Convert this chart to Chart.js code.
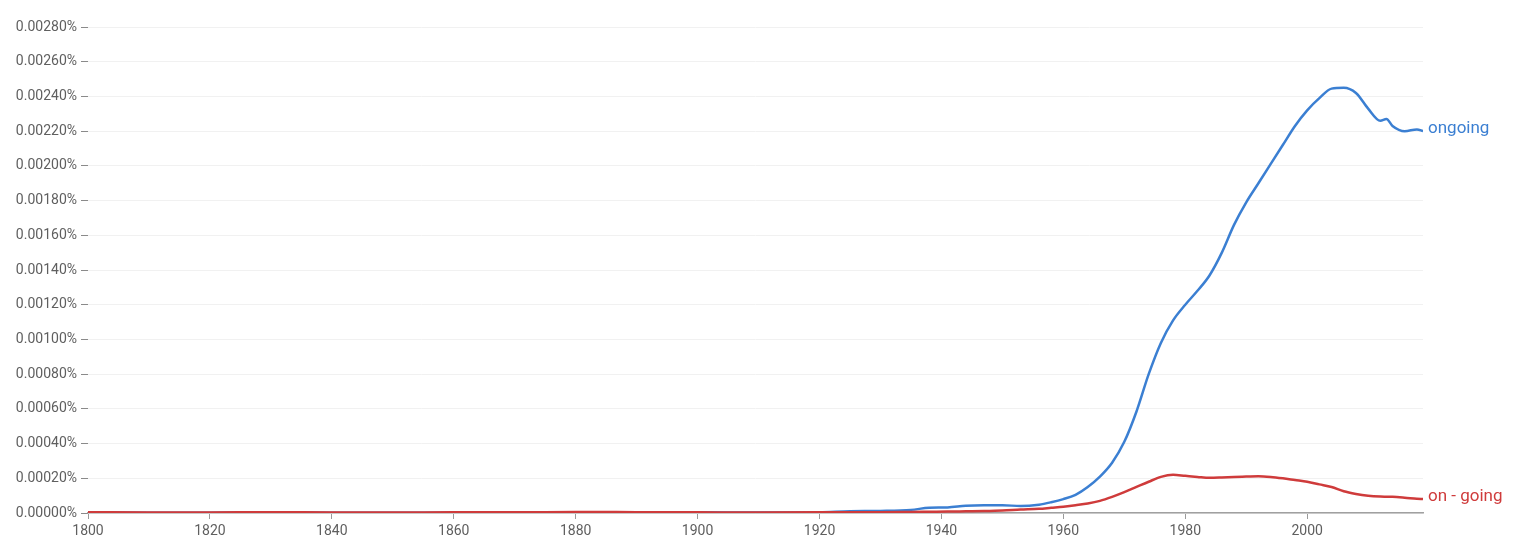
<!DOCTYPE html>
<html>
<head>
<meta charset="utf-8">
<script src="https://cdn.jsdelivr.net/npm/chart.js@4"></script>
<style>
  html, body { margin: 0; padding: 0; background: #fff; }
  #wrap { width: 1536px; height: 552px; }
</style>
</head>
<body>
<div id="wrap"><canvas id="ngram"></canvas></div>
<script>
const years = [1800, 1810, 1820, 1830, 1840, 1850, 1860, 1870, 1880, 1890, 1900, 1910,
  1920, 1925, 1930, 1935, 1938, 1941, 1944, 1947, 1950, 1953, 1956, 1958, 1960, 1962,
  1964, 1966, 1968, 1970, 1972, 1974, 1976, 1978, 1980, 1982, 1984, 1986, 1988, 1990,
  1992, 1994, 1996, 1998, 2000, 2002, 2004, 2006, 2008, 2010, 2012, 2013, 2014, 2016,
  2018, 2019];

const ongoing = [0.000003, 0.000002, 0.000002, 0.000004, 0.000002, 0.000002, 0.000002,
  0.000003, 0.000004, 0.000004, 0.000004, 0.000003, 0.000005, 0.00001, 0.000012, 0.000018,
  0.00003, 0.000032, 0.000042, 0.000045, 0.000045, 0.00004, 0.000048, 0.000062, 0.00008,
  0.000105, 0.00015, 0.00021, 0.00029, 0.00041, 0.000585, 0.0008, 0.00098, 0.00111, 0.0012,
  0.00128, 0.00137, 0.0015, 0.00166, 0.00179, 0.0019, 0.00201, 0.00212, 0.00223, 0.00232,
  0.00239, 0.002445, 0.00245, 0.00242, 0.00233, 0.00226, 0.00227, 0.00223, 0.0022, 0.00221,
  0.0022];

const onGoing = [0.000005, 0.000003, 0.000003, 0.000005, 0.000003, 0.000003, 0.000004,
  0.000004, 0.000006, 0.000005, 0.000004, 0.000003, 0.000004, 0.000005, 0.000005, 0.000006,
  0.000007, 0.000008, 0.00001, 0.000012, 0.000015, 0.00002, 0.000024, 0.00003, 0.000036,
  0.000045, 0.000055, 0.00007, 0.000093, 0.00012, 0.00015, 0.00018, 0.000208, 0.00022,
  0.000214, 0.000208, 0.000203, 0.000205, 0.000208, 0.00021, 0.000212, 0.000208, 0.0002,
  0.00019, 0.00018, 0.000165, 0.00015, 0.000125, 0.00011, 0.0001, 0.000095, 0.000094,
  0.000093, 0.000088, 0.000082, 0.00008];

const yTicks = [0, 0.0002, 0.0004, 0.0006, 0.0008, 0.001, 0.0012, 0.0014, 0.0016,
  0.0018, 0.002, 0.0022, 0.0024, 0.0026, 0.0028];
const xTicks = [1800, 1820, 1840, 1860, 1880, 1900, 1920, 1940, 1960, 1980, 2000];

const BLUE = "#3b7fd2";
const RED = "#cf3b3b";

const toPoints = (vals) => years.map((yr, i) => ({ x: yr, y: vals[i] }));

// series name written next to the last point of each line
const endLabels = {
  id: "endLabels",
  afterDatasetsDraw(chart) {
    const { ctx } = chart;
    chart.data.datasets.forEach((ds, i) => {
      const pts = chart.getDatasetMeta(i).data;
      const last = pts[pts.length - 1];
      ctx.save();
      ctx.font = "17px Roboto, 'Noto Sans', sans-serif";
      ctx.fillStyle = ds.borderColor;
      ctx.textBaseline = "middle";
      ctx.fillText(ds.label, last.x + 5, last.y - 2);
      ctx.restore();
    });
  },
};

new Chart(document.getElementById("ngram"), {
  type: "line",
  data: {
    datasets: [{
      label: "ongoing",
      data: toPoints(ongoing),
      borderColor: BLUE,
      borderWidth: 2.5,
      pointRadius: 0,
      cubicInterpolationMode: "monotone",
      fill: false,
      order: 1,
    }, {
      label: "on - going",
      data: toPoints(onGoing),
      borderColor: RED,
      borderWidth: 2.5,
      pointRadius: 0,
      cubicInterpolationMode: "monotone",
      fill: false,
      order: 0,
    }],
  },
  options: {
    responsive: true,
    maintainAspectRatio: false,
    animation: false,
    layout: { padding: { left: 0, right: 113, top: 27, bottom: 0 } },
    plugins: {
      legend: { display: false },
      tooltip: { enabled: false },
    },
    scales: {
      x: {
        type: "linear",
        min: 1800,
        max: 2019,
        afterBuildTicks: (s) => { s.ticks = xTicks.map((v) => ({ value: v })); },
        afterFit: (s) => { s.height = 39; },
        grid: { drawOnChartArea: false, tickLength: 6, tickColor: "#9a9a9a" },
        border: { color: "#a0a0a0", width: 1.5 },
        ticks: {
          color: "#5f5f5f",
          font: { family: "Roboto", size: 14 },
          padding: 4,
          maxRotation: 0,
          callback: (v) => String(v),
        },
      },
      y: {
        min: 0,
        max: 0.0028,
        afterBuildTicks: (s) => { s.ticks = yTicks.map((v) => ({ value: v })); },
        afterFit: (s) => { s.width = 88; },
        grid: { color: "#f1f1f1", tickLength: 7, tickColor: "#8a8a8a" },
        border: { display: false },
        ticks: {
          color: "#5f5f5f",
          font: { family: "Roboto", size: 14 },
          padding: 4,
          callback: (v) => v.toFixed(5) + "%",
        },
      },
    },
  },
  plugins: [endLabels],
});
</script>
</body>
</html>
